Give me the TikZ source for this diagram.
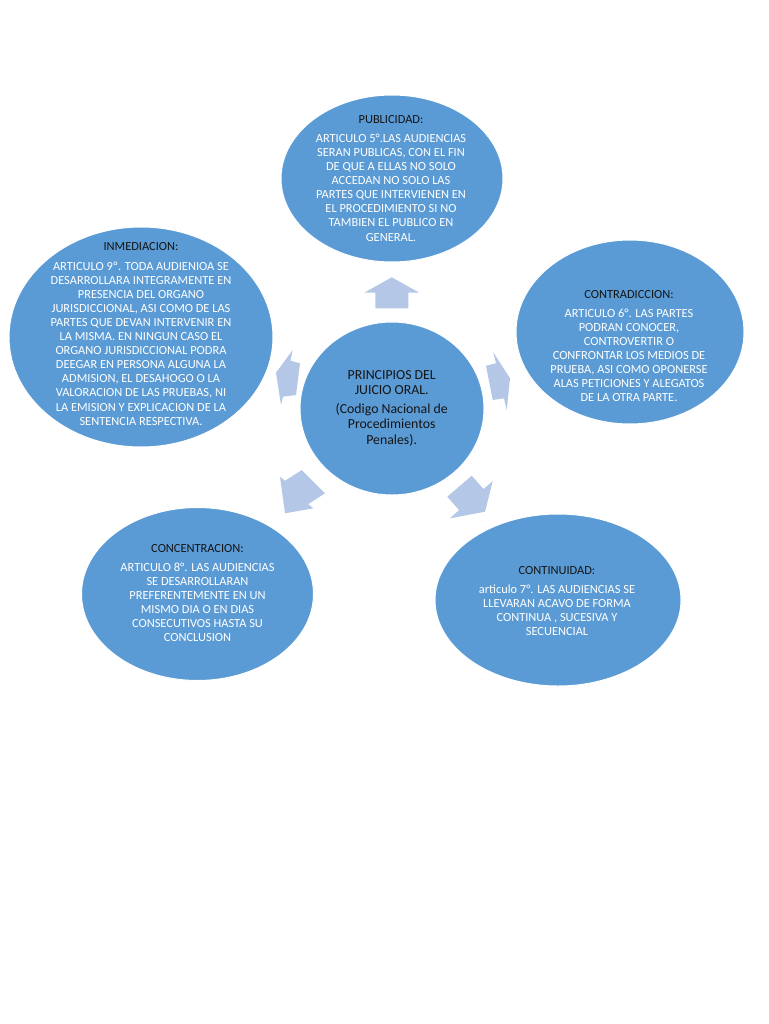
\documentclass[tikz,border=0pt]{standalone}
\usepackage{fontspec}
\setmainfont{Carlito}
\usetikzlibrary{shapes.geometric}
\definecolor{ellblue}{HTML}{5B9BD5}
\definecolor{arrblue}{HTML}{B4C7E7}
\definecolor{headtxt}{HTML}{141414}
\begin{document}
\begin{tikzpicture}[x=1pt,y=-1pt,
  bubble/.style={ellipse, fill=ellblue, draw=white, line width=1pt, inner sep=0pt},
  bodytxt/.style={anchor=north, inner sep=0pt, align=center, text=white, font=\fontsize{12.4}{14.1}\selectfont},
  centertxt/.style={anchor=north, inner sep=0pt, align=center, text=headtxt, font=\fontsize{13.8}{15.6}\selectfont},
  arrowshape/.style={fill=arrblue, draw=none}]
\useasboundingbox[fill=white] (0,0) rectangle (768,1024);

% bubbles
\node[bubble, minimum width=222pt, minimum height=167pt] (pub) at (392,178.5) {};
\node[bubble, minimum width=264pt, minimum height=220pt] (inm) at (141,337) {};
\node[bubble, minimum width=228pt, minimum height=184pt] (ctr) at (630,332) {};
\node[bubble, minimum width=184pt, minimum height=173pt] (mid) at (392,408.5) {};
\node[bubble, minimum width=232pt, minimum height=173pt] (conc) at (197.5,594) {};
\node[bubble, minimum width=246pt, minimum height=172pt] (cont) at (558,600) {};

% arrows
\fill[arrowshape] (364.3,292.7) -- (391.7,277.3) -- (419.3,292.7) -- (408.3,292.7) -- (408.3,308.3) -- (375.3,308.3) -- (375.3,292.7) -- cycle;
\fill[arrowshape] (493.3,352.3) -- (510,378.3) -- (506.7,410) -- (504,398.3) -- (492.7,400) -- (486,365.7) -- (496,363.3) -- cycle;
\fill[arrowshape] (292.7,350) -- (276,372.7) -- (281,405) -- (283,396.7) -- (296,395) -- (300,363.3) -- (290.4,360.7) -- cycle;
\fill[arrowshape] (492.7,481) -- (485,511.7) -- (450,518.3) -- (459.1,510.1) -- (447.3,496.7) -- (471.7,475.7) -- (483.5,489.1) -- cycle;
\fill[arrowshape] (280,476.7) -- (285,513.3) -- (313.3,508.3) -- (308.3,504.1) -- (325,493.3) -- (301.7,470) -- (285,480.8) -- cycle;

% texts
\node[bodytxt] (pubtxt) at (391,115) {\textcolor{headtxt}{PUBLICIDAD:}\\[5pt]
ARTICULO 5°.LAS AUDIENCIAS\\
SERAN PUBLICAS, CON EL FIN\\
DE QUE A ELLAS NO SOLO\\
ACCEDAN NO SOLO LAS\\
PARTES QUE INTERVIENEN EN\\
EL PROCEDIMIENTO SI NO\\
TAMBIEN EL PUBLICO EN\\
GENERAL.};

\node[bodytxt] (inmtxt) at (141,242.7) {\textcolor{headtxt}{INMEDIACION:}\\[5pt]
ARTICULO 9º. TODA AUDIENIOA SE\\
DESARROLLARA INTEGRAMENTE EN\\
PRESENCIA DEL ORGANO\\
JURISDICCIONAL, ASI COMO DE LAS\\
PARTES QUE DEVAN INTERVENIR EN\\
LA MISMA. EN NINGUN CASO EL\\
ORGANO JURISDICCIONAL PODRA\\
DEEGAR EN PERSONA ALGUNA LA\\
ADMISION, EL DESAHOGO O LA\\
VALORACION DE LAS PRUEBAS, NI\\
LA EMISION Y EXPLICACION DE LA\\
SENTENCIA RESPECTIVA.};

\node[bodytxt] (ctrtxt) at (629,290) {\textcolor{headtxt}{CONTRADICCION:}\\[5pt]
ARTICULO 6°. LAS PARTES\\
PODRAN CONOCER,\\
CONTROVERTIR O\\
CONFRONTAR LOS MEDIOS DE\\
PRUEBA, ASI COMO OPONERSE\\
ALAS PETICIONES Y ALEGATOS\\
DE LA OTRA PARTE.};

\node[centertxt] (midtxt) at (391.7,370) {PRINCIPIOS DEL\\
JUICIO ORAL.\\[3pt]
(Codigo Nacional de\\
Procedimientos\\
Penales).};

\node[bodytxt] (conctxt) at (197.5,544) {\textcolor{headtxt}{CONCENTRACION:}\\[5pt]
ARTICULO 8°. LAS AUDIENCIAS\\
SE DESARROLLARAN\\
PREFERENTEMENTE EN UN\\
MISMO DIA O EN DIAS\\
CONSECUTIVOS HASTA SU\\
CONCLUSION};

\node[bodytxt] (conttxt) at (557,566) {\textcolor{headtxt}{CONTINUIDAD:}\\[5pt]
articulo 7°. LAS AUDIENCIAS SE\\
LLEVARAN ACAVO DE FORMA\\
CONTINUA , SUCESIVA Y\\
SECUENCIAL};
\end{tikzpicture}
\end{document}
